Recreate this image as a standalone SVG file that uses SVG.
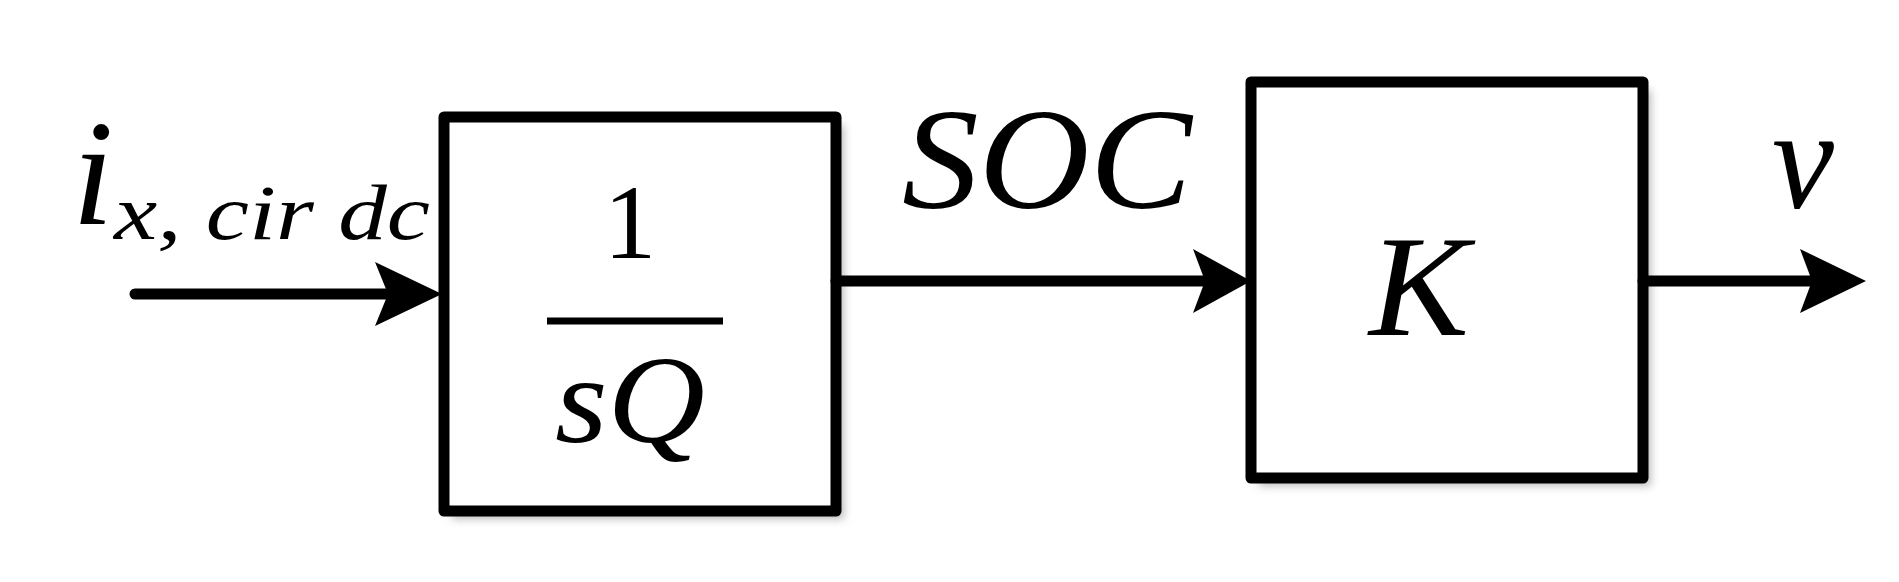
<svg xmlns="http://www.w3.org/2000/svg" width="1899" height="582" viewBox="0 0 1899 582">
<style>
.box{fill:#fff;stroke:#000;stroke-width:11;stroke-linejoin:round}
.sh{fill:#bbb;filter:url(#blur)}
.ln{stroke:#000;stroke-width:11;stroke-linecap:round;fill:none}
</style>
<defs>
<filter id="blur" x="-10%" y="-10%" width="120%" height="120%"><feGaussianBlur stdDeviation="4"/></filter>
</defs>
<rect width="1899" height="582" fill="#fff"/>
<g id="node-integrator" font-family="Liberation Serif, serif" fill="#000">
<rect class="sh" x="452" y="125" width="392" height="394"/>
<rect class="box" x="444" y="117" width="392" height="394"/>
<text x="630" y="258" font-size="105" text-anchor="middle">1</text>
<line x1="547" y1="321" x2="723" y2="321" stroke="#000" stroke-width="7"/>
<text x="630" y="442" font-size="125" font-style="italic" text-anchor="middle" textLength="150" lengthAdjust="spacingAndGlyphs">sQ</text>
</g>
<g id="node-gain" font-family="Liberation Serif, serif" fill="#000">
<rect class="sh" x="1259" y="90" width="392" height="396"/>
<rect class="box" x="1251" y="82" width="392" height="396"/>
<text x="1419" y="335" font-size="145" font-style="italic" text-anchor="middle" textLength="100" lengthAdjust="spacingAndGlyphs">K</text>
</g>
<g id="connectors">
<line class="ln" x1="135" y1="294" x2="390" y2="294"/>
<polygon points="375,262 442,294 375,326 388,294"/>
<line class="ln" x1="836" y1="281" x2="1210" y2="281"/>
<polygon points="1193,249 1251,281 1193,313 1205,281"/>
<line class="ln" x1="1643" y1="281" x2="1820" y2="281"/>
<polygon points="1800,249 1866,281 1800,313 1812,281"/>
</g>
<g id="labels" font-family="Liberation Serif, serif" font-style="italic" fill="#000">
<text x="72" y="224" font-size="150">i</text>
<text x="114" y="239" font-size="78" textLength="316" lengthAdjust="spacingAndGlyphs">x, cir dc</text>
<text x="902" y="208" font-size="145" textLength="290" lengthAdjust="spacingAndGlyphs">SOC</text>
<text x="1772" y="208" font-size="145" textLength="62" lengthAdjust="spacingAndGlyphs">v</text>
</g>
</svg>
